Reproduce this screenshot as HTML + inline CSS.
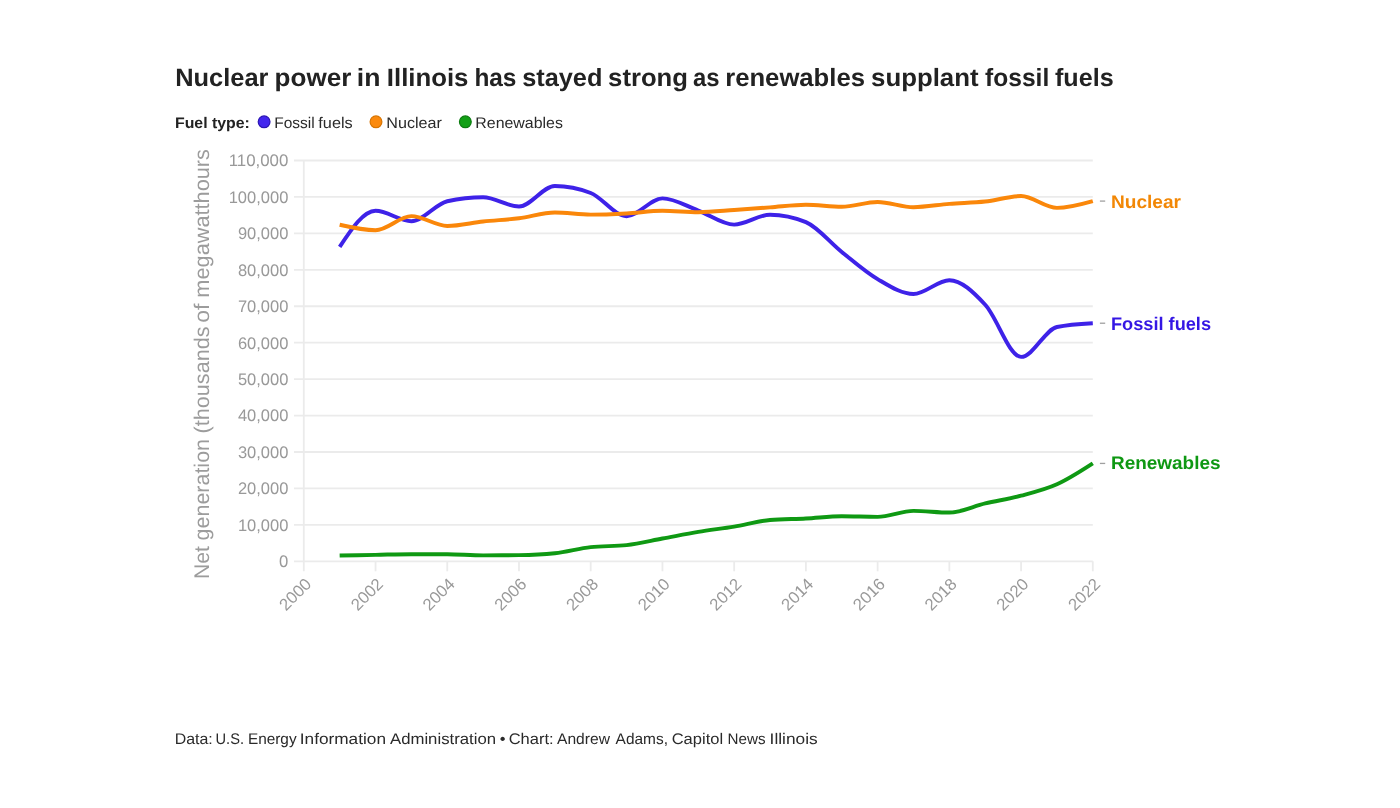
<!DOCTYPE html>
<html lang="en"><head><meta charset="utf-8"><title>Nuclear power in Illinois has stayed strong as renewables supplant fossil fuels</title>
<style>
html,body{margin:0;padding:0;background:#fff;}
svg{display:block;font-family:"Liberation Sans",sans-serif;text-rendering:geometricPrecision;}
.grid line{stroke:#ebebeb;stroke-width:1.8;}
.ser path{fill:none;stroke-width:3.95;stroke-linejoin:round;stroke-linecap:butt;}
</style></head><body>
<svg width="1400" height="808" viewBox="0 0 1400 808">
<rect width="1400" height="808" fill="#ffffff"/>
<text y="85.9" font-size="25" font-weight="bold" fill="#222222"><tspan x="175.29" textLength="93.11" lengthAdjust="spacingAndGlyphs">Nuclear</tspan> <tspan x="274.64" textLength="76.76" lengthAdjust="spacingAndGlyphs">power</tspan> <tspan x="356.81" textLength="23.59" lengthAdjust="spacingAndGlyphs">in</tspan> <tspan x="386.84" textLength="81.64" lengthAdjust="spacingAndGlyphs">Illinois</tspan> <tspan x="474.38" textLength="42.08" lengthAdjust="spacingAndGlyphs">has</tspan> <tspan x="522.15" textLength="80.26" lengthAdjust="spacingAndGlyphs">stayed</tspan> <tspan x="608.13" textLength="79.86" lengthAdjust="spacingAndGlyphs">strong</tspan> <tspan x="693.06" textLength="26.54" lengthAdjust="spacingAndGlyphs">as</tspan> <tspan x="725.17" textLength="139.83" lengthAdjust="spacingAndGlyphs">renewables</tspan> <tspan x="871.04" textLength="107.50" lengthAdjust="spacingAndGlyphs">supplant</tspan> <tspan x="985.05" textLength="64.18" lengthAdjust="spacingAndGlyphs">fossil</tspan> <tspan x="1055.02" textLength="58.58" lengthAdjust="spacingAndGlyphs">fuels</tspan></text>
<text y="127.8" font-size="15.4" font-weight="bold" fill="#222222"><tspan x="175.00" textLength="74.89" lengthAdjust="spacingAndGlyphs">Fuel type:</tspan></text>
<circle cx="264.1" cy="121.8" r="5.9" fill="#4226ee" stroke="#2a14b4" stroke-width="1.2"/>
<text y="127.8" font-size="15.4" fill="#2a2a2a"><tspan x="274.26" textLength="40.49" lengthAdjust="spacingAndGlyphs">Fossil</tspan> <tspan x="318.35" textLength="34.35" lengthAdjust="spacingAndGlyphs">fuels</tspan></text>
<circle cx="376.0" cy="121.8" r="5.9" fill="#fb8a0e" stroke="#d87400" stroke-width="1.2"/>
<text y="127.8" font-size="15.4" fill="#2a2a2a"><tspan x="386.37" textLength="55.52" lengthAdjust="spacingAndGlyphs">Nuclear</tspan></text>
<circle cx="465.35" cy="121.8" r="5.9" fill="#12a016" stroke="#0c7c10" stroke-width="1.2"/>
<text y="127.8" font-size="15.4" fill="#2a2a2a"><tspan x="475.30" textLength="87.57" lengthAdjust="spacingAndGlyphs">Renewables</tspan></text>
<g class="grid">
<line x1="294" x2="1092.8" y1="561.30" y2="561.30"/>
<line x1="294" x2="1092.8" y1="524.86" y2="524.86"/>
<line x1="294" x2="1092.8" y1="488.43" y2="488.43"/>
<line x1="294" x2="1092.8" y1="451.99" y2="451.99"/>
<line x1="294" x2="1092.8" y1="415.55" y2="415.55"/>
<line x1="294" x2="1092.8" y1="379.12" y2="379.12"/>
<line x1="294" x2="1092.8" y1="342.68" y2="342.68"/>
<line x1="294" x2="1092.8" y1="306.25" y2="306.25"/>
<line x1="294" x2="1092.8" y1="269.81" y2="269.81"/>
<line x1="294" x2="1092.8" y1="233.37" y2="233.37"/>
<line x1="294" x2="1092.8" y1="196.94" y2="196.94"/>
<line x1="294" x2="1092.8" y1="160.50" y2="160.50"/>
<line x1="303.8" x2="303.8" y1="160.5" y2="571.3"/>
<line x1="375.53" x2="375.53" y1="561.3" y2="571.3"/>
<line x1="447.25" x2="447.25" y1="561.3" y2="571.3"/>
<line x1="518.98" x2="518.98" y1="561.3" y2="571.3"/>
<line x1="590.71" x2="590.71" y1="561.3" y2="571.3"/>
<line x1="662.44" x2="662.44" y1="561.3" y2="571.3"/>
<line x1="734.16" x2="734.16" y1="561.3" y2="571.3"/>
<line x1="805.89" x2="805.89" y1="561.3" y2="571.3"/>
<line x1="877.62" x2="877.62" y1="561.3" y2="571.3"/>
<line x1="949.35" x2="949.35" y1="561.3" y2="571.3"/>
<line x1="1021.07" x2="1021.07" y1="561.3" y2="571.3"/>
<line x1="1092.80" x2="1092.80" y1="561.3" y2="571.3"/>
</g>
<g class="ylab">
<text x="288.4" y="567.20" font-size="16.7" font-weight="normal" fill="#999999" text-anchor="end">0</text>
<text x="288.4" y="530.76" font-size="16.7" font-weight="normal" fill="#999999" text-anchor="end" textLength="50.5" lengthAdjust="spacingAndGlyphs">10,000</text>
<text x="288.4" y="494.33" font-size="16.7" font-weight="normal" fill="#999999" text-anchor="end" textLength="50.5" lengthAdjust="spacingAndGlyphs">20,000</text>
<text x="288.4" y="457.89" font-size="16.7" font-weight="normal" fill="#999999" text-anchor="end" textLength="50.5" lengthAdjust="spacingAndGlyphs">30,000</text>
<text x="288.4" y="421.45" font-size="16.7" font-weight="normal" fill="#999999" text-anchor="end" textLength="50.5" lengthAdjust="spacingAndGlyphs">40,000</text>
<text x="288.4" y="385.02" font-size="16.7" font-weight="normal" fill="#999999" text-anchor="end" textLength="50.5" lengthAdjust="spacingAndGlyphs">50,000</text>
<text x="288.4" y="348.58" font-size="16.7" font-weight="normal" fill="#999999" text-anchor="end" textLength="50.5" lengthAdjust="spacingAndGlyphs">60,000</text>
<text x="288.4" y="312.15" font-size="16.7" font-weight="normal" fill="#999999" text-anchor="end" textLength="50.5" lengthAdjust="spacingAndGlyphs">70,000</text>
<text x="288.4" y="275.71" font-size="16.7" font-weight="normal" fill="#999999" text-anchor="end" textLength="50.5" lengthAdjust="spacingAndGlyphs">80,000</text>
<text x="288.4" y="239.27" font-size="16.7" font-weight="normal" fill="#999999" text-anchor="end" textLength="50.5" lengthAdjust="spacingAndGlyphs">90,000</text>
<text x="288.4" y="202.84" font-size="16.7" font-weight="normal" fill="#999999" text-anchor="end" textLength="59.7" lengthAdjust="spacingAndGlyphs">100,000</text>
<text x="288.4" y="166.40" font-size="16.7" font-weight="normal" fill="#999999" text-anchor="end" textLength="59.7" lengthAdjust="spacingAndGlyphs">110,000</text>
</g>
<text transform="translate(208.6,578) rotate(-90)" font-size="21.2" fill="#9c9c9c"><tspan x="-1.03" textLength="32.93" lengthAdjust="spacingAndGlyphs">Net</tspan> <tspan x="37.57" textLength="101.45" lengthAdjust="spacingAndGlyphs">generation</tspan> <tspan x="144.61" textLength="106.91" lengthAdjust="spacingAndGlyphs">(thousands</tspan> <tspan x="255.35" textLength="19.15" lengthAdjust="spacingAndGlyphs">of</tspan> <tspan x="280.37" textLength="148.55" lengthAdjust="spacingAndGlyphs">megawatthours</tspan></text>
<g class="xlab">
<text transform="translate(312.30,585.1) rotate(-45)" font-size="16.7" fill="#999999" text-anchor="end" textLength="37.2" lengthAdjust="spacingAndGlyphs">2000</text>
<text transform="translate(384.03,585.1) rotate(-45)" font-size="16.7" fill="#999999" text-anchor="end" textLength="37.2" lengthAdjust="spacingAndGlyphs">2002</text>
<text transform="translate(455.75,585.1) rotate(-45)" font-size="16.7" fill="#999999" text-anchor="end" textLength="37.2" lengthAdjust="spacingAndGlyphs">2004</text>
<text transform="translate(527.48,585.1) rotate(-45)" font-size="16.7" fill="#999999" text-anchor="end" textLength="37.2" lengthAdjust="spacingAndGlyphs">2006</text>
<text transform="translate(599.21,585.1) rotate(-45)" font-size="16.7" fill="#999999" text-anchor="end" textLength="37.2" lengthAdjust="spacingAndGlyphs">2008</text>
<text transform="translate(670.94,585.1) rotate(-45)" font-size="16.7" fill="#999999" text-anchor="end" textLength="37.2" lengthAdjust="spacingAndGlyphs">2010</text>
<text transform="translate(742.66,585.1) rotate(-45)" font-size="16.7" fill="#999999" text-anchor="end" textLength="37.2" lengthAdjust="spacingAndGlyphs">2012</text>
<text transform="translate(814.39,585.1) rotate(-45)" font-size="16.7" fill="#999999" text-anchor="end" textLength="37.2" lengthAdjust="spacingAndGlyphs">2014</text>
<text transform="translate(886.12,585.1) rotate(-45)" font-size="16.7" fill="#999999" text-anchor="end" textLength="37.2" lengthAdjust="spacingAndGlyphs">2016</text>
<text transform="translate(957.85,585.1) rotate(-45)" font-size="16.7" fill="#999999" text-anchor="end" textLength="37.2" lengthAdjust="spacingAndGlyphs">2018</text>
<text transform="translate(1029.57,585.1) rotate(-45)" font-size="16.7" fill="#999999" text-anchor="end" textLength="37.2" lengthAdjust="spacingAndGlyphs">2020</text>
<text transform="translate(1101.30,585.1) rotate(-45)" font-size="16.7" fill="#999999" text-anchor="end" textLength="37.2" lengthAdjust="spacingAndGlyphs">2022</text>
</g>
<g class="ser">
<path stroke="#0f9913" d="M339.66,555.54C351.62,555.31 363.57,555.08 375.53,554.85C387.48,554.62 399.44,554.16 411.39,554.16C423.35,554.16 435.30,554.21 447.25,554.30C459.21,554.40 471.16,555.36 483.12,555.36C495.07,555.36 507.03,555.29 518.98,555.14C530.94,555.00 542.89,554.52 554.85,553.28C566.80,552.05 578.75,548.46 590.71,547.13C602.66,545.79 614.62,546.46 626.57,545.12C638.53,543.79 650.48,540.77 662.44,538.56C674.39,536.35 686.35,533.86 698.30,531.86C710.25,529.86 722.21,528.55 734.16,526.58C746.12,524.60 758.07,520.99 770.03,520.02C781.98,519.05 793.94,519.18 805.89,518.56C817.85,517.94 829.80,516.30 841.75,516.30C853.71,516.30 865.66,516.85 877.62,516.85C889.57,516.85 901.53,510.87 913.48,510.87C925.44,510.87 937.39,512.58 949.35,512.58C961.30,512.58 973.25,506.25 985.21,503.44C997.16,500.63 1009.12,498.90 1021.07,495.71C1033.03,492.53 1044.98,489.69 1056.94,484.31C1068.89,478.93 1080.85,471.18 1092.80,463.43"/>
<path stroke="#3e22e8" d="M339.66,246.93C351.62,228.84 363.57,210.75 375.53,210.75C387.48,210.75 399.44,221.24 411.39,221.24C423.35,221.24 435.30,203.86 447.25,201.24C459.21,198.61 471.16,197.30 483.12,197.30C495.07,197.30 507.03,206.52 518.98,206.52C530.94,206.52 542.89,186.01 554.85,186.01C566.80,186.01 578.75,188.34 590.71,193.00C602.66,197.67 614.62,216.17 626.57,216.17C638.53,216.17 650.48,198.36 662.44,198.36C674.39,198.36 686.35,206.15 698.30,210.53C710.25,214.91 722.21,224.63 734.16,224.63C746.12,224.63 758.07,214.68 770.03,214.68C781.98,214.68 793.94,217.16 805.89,222.11C817.85,227.07 829.80,242.45 841.75,251.96C853.71,261.46 865.66,272.12 877.62,279.14C889.57,286.15 901.53,294.04 913.48,294.04C925.44,294.04 937.39,280.23 949.35,280.23C961.30,280.23 973.25,291.97 985.21,304.75C997.16,317.53 1009.12,356.89 1021.07,356.89C1033.03,356.89 1044.98,329.54 1056.94,327.01C1068.89,324.49 1080.85,323.86 1092.80,323.22"/>
<path stroke="#fa870a" d="M339.66,224.78C351.62,227.51 363.57,230.24 375.53,230.24C387.48,230.24 399.44,216.13 411.39,216.13C423.35,216.13 435.30,225.91 447.25,225.91C459.21,225.91 471.16,222.76 483.12,221.48C495.07,220.20 507.03,219.73 518.98,218.24C530.94,216.74 542.89,212.50 554.85,212.50C566.80,212.50 578.75,214.60 590.71,214.60C602.66,214.60 614.62,214.06 626.57,213.43C638.53,212.80 650.48,210.82 662.44,210.82C674.39,210.82 686.35,212.16 698.30,212.16C710.25,212.16 722.21,210.84 734.16,210.05C746.12,209.26 758.07,208.27 770.03,207.39C781.98,206.51 793.94,204.74 805.89,204.74C817.85,204.74 829.80,206.84 841.75,206.84C853.71,206.84 865.66,202.01 877.62,202.01C889.57,202.01 901.53,207.17 913.48,207.17C925.44,207.17 937.39,204.79 949.35,203.85C961.30,202.91 973.25,202.85 985.21,201.55C997.16,200.24 1009.12,196.04 1021.07,196.04C1033.03,196.04 1044.98,207.87 1056.94,207.87C1068.89,207.87 1080.85,204.48 1092.80,201.09"/>
</g>
<line x1="1099.9" x2="1105.2" y1="201.09" y2="201.09" stroke="#a0a0a0" stroke-width="1.3"/>
<text x="1111" y="207.69" font-size="18.3" font-weight="bold" fill="#f28705" text-anchor="start" textLength="70" lengthAdjust="spacingAndGlyphs">Nuclear</text>
<line x1="1099.9" x2="1105.2" y1="323.22" y2="323.22" stroke="#a0a0a0" stroke-width="1.3"/>
<text x="1111" y="329.62" font-size="18.3" font-weight="bold" fill="#3416e4" text-anchor="start" textLength="100" lengthAdjust="spacingAndGlyphs">Fossil fuels</text>
<line x1="1099.9" x2="1105.2" y1="463.43" y2="463.43" stroke="#a0a0a0" stroke-width="1.3"/>
<text x="1111" y="468.78" font-size="18.3" font-weight="bold" fill="#0f9813" text-anchor="start" textLength="109.5" lengthAdjust="spacingAndGlyphs">Renewables</text>
<text y="743.5" font-size="15.4" font-weight="normal" fill="#2a2a2a"><tspan x="174.77" textLength="38.04" lengthAdjust="spacingAndGlyphs">Data:</tspan> <tspan x="215.53" textLength="28.47" lengthAdjust="spacingAndGlyphs">U.S.</tspan> <tspan x="247.89" textLength="48.72" lengthAdjust="spacingAndGlyphs">Energy</tspan> <tspan x="299.81" textLength="86.19" lengthAdjust="spacingAndGlyphs">Information</tspan> <tspan x="390.00" textLength="106.00" lengthAdjust="spacingAndGlyphs">Administration</tspan> <tspan x="499.82" textLength="5.77" lengthAdjust="spacingAndGlyphs">•</tspan> <tspan x="508.71" textLength="44.93" lengthAdjust="spacingAndGlyphs">Chart:</tspan> <tspan x="557.00" textLength="52.92" lengthAdjust="spacingAndGlyphs">Andrew</tspan> <tspan x="615.64" textLength="52.36" lengthAdjust="spacingAndGlyphs">Adams,</tspan> <tspan x="671.70" textLength="51.44" lengthAdjust="spacingAndGlyphs">Capitol</tspan> <tspan x="727.57" textLength="37.95" lengthAdjust="spacingAndGlyphs">News</tspan> <tspan x="769.63" textLength="48.03" lengthAdjust="spacingAndGlyphs">Illinois</tspan></text>
</svg>
</body></html>
